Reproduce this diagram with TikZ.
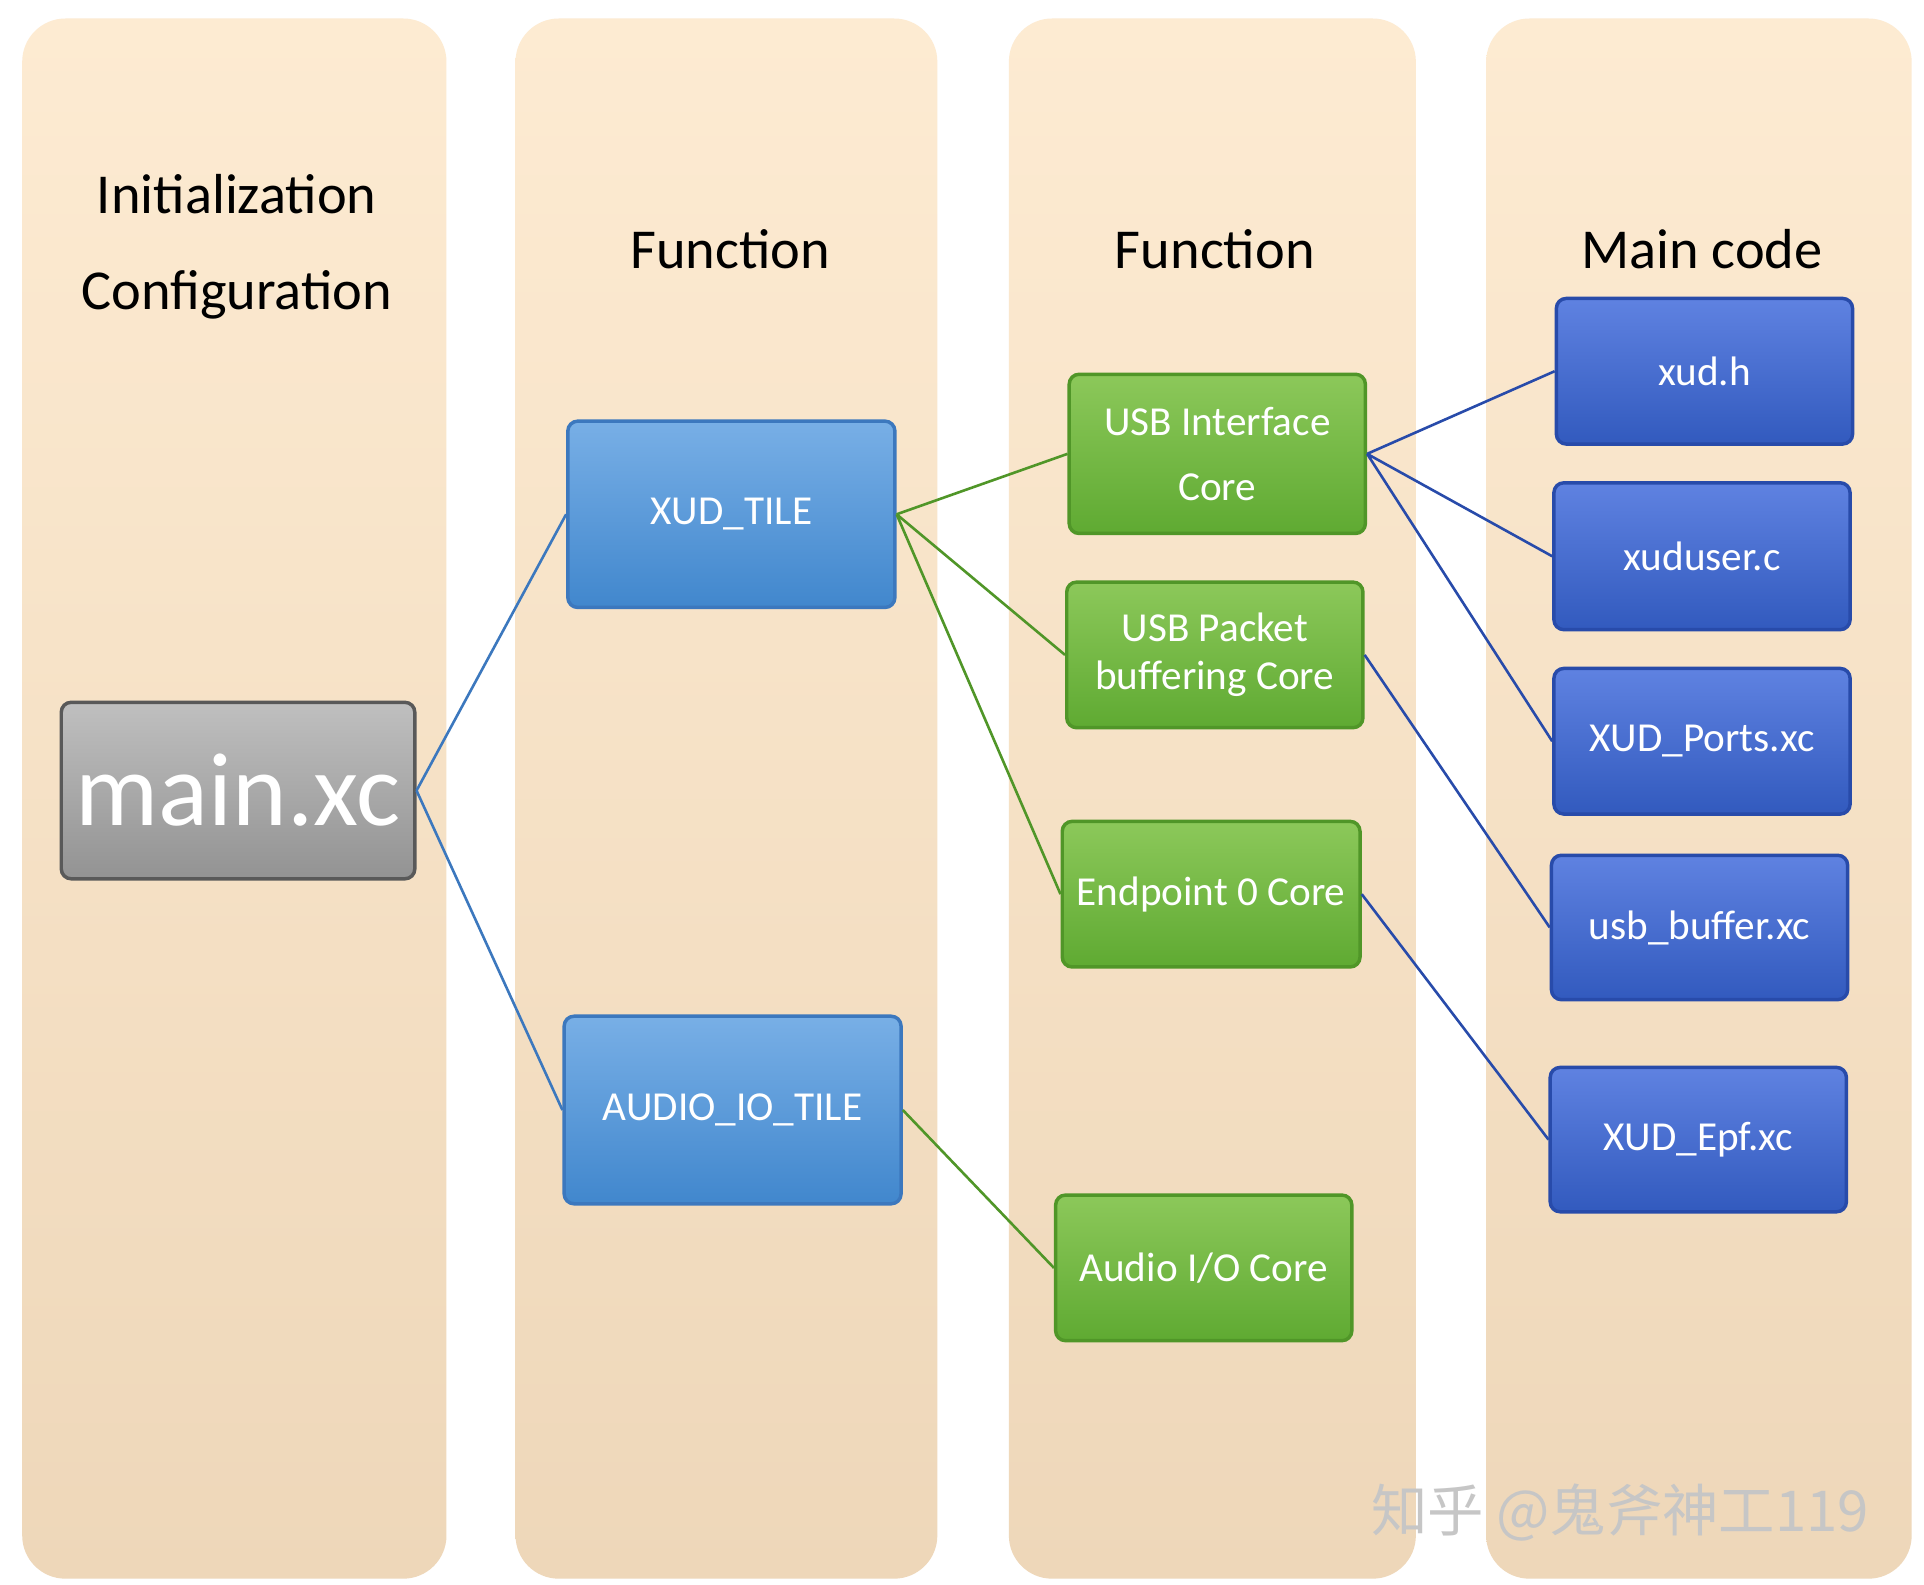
\documentclass[tikz,border=0pt]{standalone}
\usepackage{fontspec}
\setmainfont{Carlito}
\newfontfamily\cjkf{Noto Sans CJK SC}
\definecolor{dbt}{RGB}{95,130,225}
\definecolor{dbb}{RGB}{50,90,190}
\definecolor{dbl}{RGB}{40,75,170}
\definecolor{blt}{RGB}{120,175,230}
\definecolor{blb}{RGB}{65,135,205}
\definecolor{bll}{RGB}{60,120,190}
\definecolor{grt}{RGB}{140,200,90}
\definecolor{grb}{RGB}{95,170,50}
\definecolor{grl}{RGB}{80,150,40}
\definecolor{ct}{RGB}{253,235,210}
\definecolor{cb}{RGB}{238,215,185}
\begin{document}
\begin{tikzpicture}[x=0.01cm,y=-0.01cm,
 col/.style={rounded corners=0.35cm,top color=ct,bottom color=cb,draw=none},
 box/.style={draw=#1,line width=0.8pt,rounded corners=0.08cm,text=white,align=center,font=\fontsize{9.5}{15}\selectfont},
 bl/.style={box=bll,top color=blt,bottom color=blb},
 gr/.style={box=grl,top color=grt,bottom color=grb},
 db/.style={box=dbl,top color=dbt,bottom color=dbb},
 ttl/.style={font=\fontsize{13}{22}\selectfont,align=center}]
\useasboundingbox (0,0) rectangle (1560,1285);
\fill[white] (0,0) rectangle (1560,1285);
\foreach \a/\b in {18/362,418/760,818/1148,1205/1550}
  \path[col] (\a,15) rectangle (\b,1280);
\node[ttl] (t1) at (192,200) {Initialization\\Configuration};
\node[ttl] (t2) at (592,202) {Function};
\node[ttl] (t3) at (985,202) {Function};
\node[ttl] (t4) at (1380,202) {Main code};
\node[box=gray!70!black,top color=gray!50,bottom color=gray!85,minimum width=2.83cm,minimum height=1.43cm,font=\fontsize{24}{26}\selectfont] (m) at (193,641) {main.xc};
\node[bl,minimum width=2.65cm,minimum height=1.51cm] (x) at (593,417) {XUD\_TILE};
\node[bl,minimum width=2.73cm,minimum height=1.52cm] (a) at (594,900) {AUDIO\_IO\_TILE};
\node[gr,minimum width=2.4cm,minimum height=1.29cm] (u1) at (987,368) {USB Interface\\Core};
\node[gr,minimum width=2.4cm,minimum height=1.18cm,font=\fontsize{9.5}{11}\selectfont] (u2) at (985,531) {USB Packet\\buffering Core};
\node[gr,minimum width=2.4cm,minimum height=1.18cm] (e0) at (982,725) {Endpoint 0 Core};
\node[gr,minimum width=2.4cm,minimum height=1.18cm] (ai) at (976,1028) {Audio I/O Core};
\node[db,minimum width=2.4cm,minimum height=1.18cm] (f1) at (1382,301) {xud.h};
\node[db,minimum width=2.4cm,minimum height=1.19cm] (f2) at (1380,451) {xuduser.c};
\node[db,minimum width=2.4cm,minimum height=1.18cm] (f3) at (1380,601) {XUD\_Ports.xc};
\node[db,minimum width=2.4cm,minimum height=1.17cm] (f4) at (1378,752) {usb\_buffer.xc};
\node[db,minimum width=2.4cm,minimum height=1.17cm] (f5) at (1377,924) {XUD\_Epf.xc};
\begin{scope}[line width=0.6pt]
\draw[bll] (m.east) -- (x.west) (m.east) -- (a.west);
\draw[grl] (x.east) -- (u1.west) (x.east) -- (u2.west) (x.east) -- (e0.west) (a.east) -- (ai.west);
\draw[dbl] (u1.east) -- (f1.west) (u1.east) -- (f2.west) (u1.east) -- (f3.west) (u2.east) -- (f4.west) (e0.east) -- (f5.west);
\end{scope}
\node[font=\cjkf\fontsize{13}{15}\selectfont,text=gray!45,anchor=east] (w) at (1528,1226) {知乎 @鬼斧神工119};
\end{tikzpicture}
\end{document}
